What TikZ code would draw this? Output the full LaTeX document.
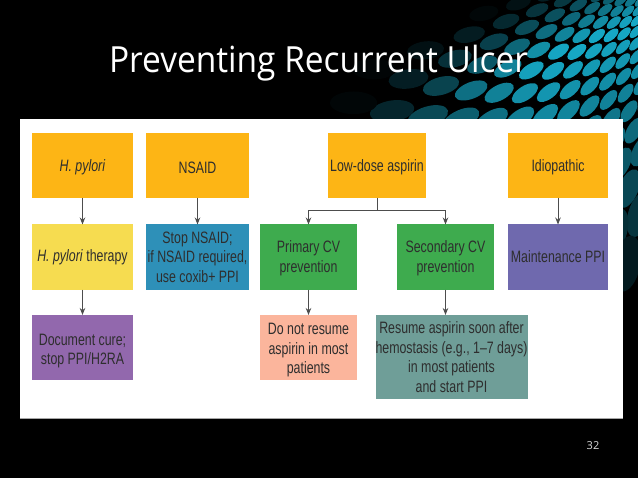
\documentclass[tikz,border=0pt]{standalone}
\usepackage{fontspec}
\newfontfamily\bodyf[FakeStretch=0.75]{Liberation Sans}
\newfontfamily\titlef[FakeStretch=0.93]{Open Sans}
\newfontfamily\numf{Open Sans}
\definecolor{dotc}{RGB}{22,170,200}
\definecolor{cOrange}{HTML}{FDB515}
\definecolor{cYellow}{HTML}{F6DC50}
\definecolor{cBlue}{HTML}{2E90B8}
\definecolor{cGreen}{HTML}{3EAB4E}
\definecolor{cPurple}{HTML}{9268AD}
\definecolor{cPink}{HTML}{FBB59C}
\definecolor{cSage}{HTML}{6F9E98}
\definecolor{cViolet}{HTML}{6F69AE}
\definecolor{cInk}{HTML}{2E2E2E}
\usetikzlibrary{arrows.meta}
\tikzset{
  flowbox/.style={inner sep=0pt,outer sep=0pt,align=center,text=cInk,
    font=\bodyf\fontsize{16.5bp}{19.5bp}\selectfont},
  flowline/.style={draw=cInk!85,line width=0.9bp},
  flowarrow/.style={flowline,-{Stealth[length=7bp,width=5.5bp]}}
}
\begin{document}
\begin{tikzpicture}[x=1bp,y=-1bp]
\useasboundingbox (0,0) rectangle (638,478);
\fill[black] (0,0) rectangle (638,478);
\begin{scope}
\clip (0,0) rectangle (638,478);
\foreach \k in {0,...,26}{
  \foreach \j in {0,...,13}{
    \pgfmathsetmacro{\dr}{70*exp(0.085*\k)}
    \pgfmathsetmacro{\dt}{1+7.5*(\j+mod(\k,2)/2)}
    \pgfmathsetmacro{\px}{705-\dr*cos(\dt)}
    \pgfmathsetmacro{\py}{-50+\dr*sin(\dt)}
    \pgfmathsetmacro{\ds}{(\px-400)*0.3846+(\py-120)*0.923}
    \pgfmathsetmacro{\dg}{ifthenelse(\ds<0,max(0,1+\ds/70),max(0,1-\ds/260))}
    \pgfmathsetmacro{\db}{min(1,max(0,(\px-340)/200))}
    \pgfmathsetmacro{\dotI}{100*\db*\dg}
    \pgfmathtruncatemacro{\dotvis}{ifthenelse(\dotI>2,ifthenelse(\py<135,1,ifthenelse(\px>600,1,0)),0)}
    \ifnum\dotvis=1
      \pgfmathsetmacro{\da}{15+0.2*(\px-430)+0.15*(\py-100)}
      \pgfmathsetmacro{\drx}{2+0.056*\dr+0.05*max(\py-100,0)}
      \fill[fill=dotc!\dotI!black,shift={(\px,\py)},rotate=\da] (0,0) ellipse ({\drx} and {0.48*\drx});
    \fi
  }
}
\end{scope}
% panel
\fill[white] (20,119) rectangle (623,418);
\draw[black!35,line width=0.8bp] (20,418) -- (623,418);
% title and page number
\node[name=title,anchor=base,text=white,inner sep=0pt,font=\titlef\fontsize{36bp}{40bp}\selectfont] at (318.5,72.7) {Preventing Recurrent Ulcer};
\node[name=pagenum,text=black!15,inner sep=0pt,font=\numf\fontsize{11bp}{13bp}\selectfont] at (593,446) {32};
% boxes
\node[flowbox,text height=16bp,fill=cOrange,minimum width=101bp,minimum height=65bp] (hp) at (82.5,165.5) {\textit{H. pylori}};
\node[flowbox,text height=16bp,fill=cOrange,minimum width=103bp,minimum height=65bp] (ns) at (197.5,165.5) {NSAID};
\node[flowbox,text height=16bp,fill=cOrange,minimum width=98bp,minimum height=65bp] (as) at (377,165.5) {Low-dose aspirin};
\node[flowbox,text height=16bp,fill=cOrange,minimum width=100bp,minimum height=65bp] (id) at (558,165.5) {Idiopathic};
\node[flowbox,fill=cYellow,minimum width=101bp,minimum height=65bp] (th) at (82.5,257) {\textit{H. pylori} therapy};
\node[flowbox,fill=cBlue,minimum width=103bp,minimum height=65bp] (st) at (197.5,257) {Stop NSAID;\\if NSAID required,\\use coxib+ PPI};
\node[flowbox,text height=33.5bp,fill=cGreen,minimum width=97bp,minimum height=65bp] (pr) at (308.5,257) {Primary CV\\prevention};
\node[flowbox,text height=33.5bp,fill=cGreen,minimum width=97bp,minimum height=65bp] (se) at (445.5,257) {Secondary CV\\prevention};
\node[flowbox,fill=cViolet,minimum width=100bp,minimum height=65bp] (ma) at (558,257) {Maintenance PPI};
\node[flowbox,text height=37.5bp,fill=cPurple,minimum width=101bp,minimum height=65bp] (dc) at (82.5,347.5) {Document cure;\\stop PPI/H2RA};
\node[flowbox,text height=56bp,fill=cPink,minimum width=97bp,minimum height=65bp] (dn) at (308.5,347.5) {Do not resume\\aspirin in most\\patients};
\node[flowbox,fill=cSage,minimum width=151bp,minimum height=84bp] (re) at (451.5,357) {Resume aspirin soon after\\hemostasis (e.g., 1–7 days)\\in most patients\\and start PPI};
% connectors
\coordinate (bus) at (377,210);
\draw[flowarrow] (hp.south) -- (th.north);
\draw[flowarrow] (th.south) -- (dc.north);
\draw[flowarrow] (ns.south) -- (st.north);
\draw[flowline] (as.south) -- (bus);
\draw[flowarrow] (bus) -| (pr.north);
\draw[flowarrow] (bus) -| (se.north);
\draw[flowarrow] (pr.south) -- (dn.north);
\draw[flowarrow] (se.south) -- (se.south |- re.north);
\draw[flowarrow] (id.south) -- (ma.north);
\end{tikzpicture}
\end{document}
